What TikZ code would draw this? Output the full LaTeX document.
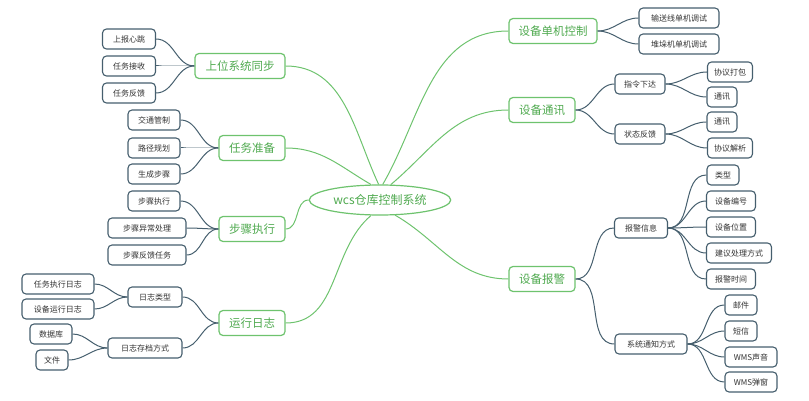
\documentclass[tikz,border=0pt]{standalone}
\usepackage{fontspec}
\setmainfont{Noto Sans CJK SC}
\usetikzlibrary{shapes.geometric}
\definecolor{gr}{RGB}{110,195,110}
\definecolor{dk}{RGB}{70,95,110}
\definecolor{gtx}{RGB}{80,170,80}
\tikzset{
 mainbox/.style={draw=gr,line width=1.2pt,rounded corners=4pt,fill=white,text=gtx,font=\fontsize{11.5}{13}\selectfont,minimum height=25pt,inner xsep=5pt},
 leaf/.style={draw=dk,line width=1.1pt,rounded corners=4pt,fill=white,text=black!80,font=\fontsize{8}{10}\selectfont,minimum height=20pt,inner xsep=5pt},
 gline/.style={draw=gr,line width=1pt},
 dline/.style={draw=dk,line width=1pt},
}
\begin{document}
\begin{tikzpicture}[x=1pt,y=-1pt]
\useasboundingbox (0,0) rectangle (809,401);
\node[ellipse,draw=gr,line width=1.2pt,fill=white,text=gtx,minimum width=135pt,minimum height=30pt,font=\fontsize{12}{14}\selectfont] (c) at (380,200) {wcs仓库控制系统};
% left main
\node[mainbox,minimum width=90pt] (a1) at (240,66) {上位系统同步};
\node[mainbox,minimum width=66pt] (a2) at (252,148) {任务准备};
\node[mainbox,minimum width=66pt] (a3) at (252,229) {步骤执行};
\node[mainbox,minimum width=66pt] (a4) at (252,323) {运行日志};
% right main
\node[mainbox,minimum width=88pt] (b1) at (553,31) {设备单机控制};
\node[mainbox,minimum width=66pt] (b2) at (542,110) {设备通讯};
\node[mainbox,minimum width=66pt] (b3) at (542,279) {设备报警};
% green connectors
\draw[gline] (c.95) to[out=115,in=0] (a1.east);
\draw[gline] (c.120) to[out=150,in=0] (a2.east);
\draw[gline] (c.180) to[out=180,in=0] (a3.east);
\draw[gline] (c.240) to[out=220,in=0] (a4.east);
\draw[gline] (c.80) to[out=60,in=180] (b1.west);
\draw[gline] (c.55) to[out=40,in=180] (b2.west);
\draw[gline] (c.315) to[out=330,in=180] (b3.west);
% left leaves
\node[leaf,minimum width=53pt] (l1) at (129,39) {上报心跳};
\node[leaf,minimum width=53pt] (l2) at (129,66) {任务接收};
\node[leaf,minimum width=53pt] (l3) at (129,93) {任务反馈};
\node[leaf,minimum width=52pt] (l4) at (154,120) {交通管制};
\node[leaf,minimum width=52pt] (l5) at (154,148) {路径规划};
\node[leaf,minimum width=52pt] (l6) at (154,174) {生成步骤};
\node[leaf,minimum width=52pt] (l7) at (154,201) {步骤执行};
\node[leaf,minimum width=78pt] (l8) at (147,228) {步骤异常处理};
\node[leaf,minimum width=78pt] (l9) at (147,255) {步骤反馈任务};
\node[leaf,minimum width=54pt] (m1) at (155,297) {日志类型};
\node[leaf,minimum width=74pt] (m2) at (145,348) {日志存档方式};
\node[leaf,minimum width=72pt] (n1) at (58,284) {任务执行日志};
\node[leaf,minimum width=72pt] (n2) at (58,309) {设备运行日志};
\node[leaf,minimum width=42pt] (n3) at (51,334) {数据库};
\node[leaf,minimum width=32pt] (n4) at (52,360) {文件};
\foreach \p/\k in {a1/l1,a1/l2,a1/l3,a2/l4,a2/l5,a2/l6,a3/l7,a3/l8,a3/l9,a4/m1,a4/m2,m1/n1,m1/n2,m2/n3,m2/n4}
  \draw[dline] (\p.west) to[out=180,in=0] (\k.east);
% right subs
\node[leaf,minimum width=80pt] (r1) at (679,18) {输送线单机调试};
\node[leaf,minimum width=80pt] (r2) at (679,44) {堆垛机单机调试};
\node[leaf,minimum width=50pt] (s1) at (640,84) {指令下达};
\node[leaf,minimum width=50pt] (s2) at (640,134) {状态反馈};
\node[leaf,minimum width=45pt] (t1) at (730,72) {协议打包};
\node[leaf,minimum width=30pt] (t2) at (722,97) {通讯};
\node[leaf,minimum width=30pt] (t3) at (722,122) {通讯};
\node[leaf,minimum width=45pt] (t4) at (730,148) {协议解析};
\node[leaf,minimum width=53pt] (s3) at (641,228) {报警信息};
\node[leaf,minimum width=72pt] (s4) at (651,344) {系统通知方式};
\node[leaf,minimum width=32pt] (u1) at (723,175) {类型};
\node[leaf,minimum width=49pt] (u2) at (731,201) {设备编号};
\node[leaf,minimum width=49pt] (u3) at (731,227) {设备位置};
\node[leaf,minimum width=65pt] (u4) at (739,253) {建议处理方式};
\node[leaf,minimum width=49pt] (u5) at (731,279) {报警时间};
\node[leaf,minimum width=32pt] (v1) at (741,305) {邮件};
\node[leaf,minimum width=32pt] (v2) at (741,331) {短信};
\node[leaf,minimum width=52pt] (v3) at (751,357) {WMS声音};
\node[leaf,minimum width=52pt] (v4) at (751,382) {WMS弹窗};
\foreach \p/\k in {b1/r1,b1/r2,b2/s1,b2/s2,s1/t1,s1/t2,s2/t3,s2/t4,b3/s3,b3/s4,s3/u1,s3/u2,s3/u3,s3/u4,s3/u5,s4/v1,s4/v2,s4/v3,s4/v4}
  \draw[dline] (\p.east) to[out=0,in=180] (\k.west);
\end{tikzpicture}
\end{document}
